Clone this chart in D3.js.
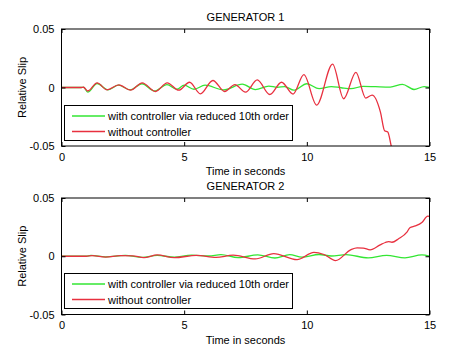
<!DOCTYPE html>
<html>
<head>
<meta charset="utf-8">
<script src="https://cdn.jsdelivr.net/npm/d3@7"></script>
<style>
  html, body { margin: 0; padding: 0; background: #fff; }
  svg { display: block; }
  text { font-family: "Liberation Sans", Arial, sans-serif; fill: #000; }
</style>
</head>
<body>
<svg id="chart" width="474" height="355"></svg>
<script>
// ---------- data ----------
const xTicks = [0, 5, 10, 15];
const yTicks = [0.05, 0, -0.05];
const yTickLabels = ["0.05", "0", "-0.05"];
const titles = ["GENERATOR 1", "GENERATOR 2"];
const seriesNames = ["with controller via reduced 10th order", "without controller"];
const xLabel = "Time in seconds";
const yLabel = "Relative Slip";

// Generator 1 – with controller (t, slip)
const gen1With = [[0,0],[0.8,0],[0.9,0.0002],[1.07,-0.004],[1.45,0.0034],[1.9,-0.002],[2.32,0.002],[2.8,-0.002],[3.28,0.0032],[3.8,-0.003],[4.3,0.0025],[4.7,-0.0015],[5.0,0.002],[5.4,-0.0015],[5.85,0.002],[6.6,-0.002],[7.37,0.0028],[7.9,-0.0018],[8.45,0.0012],[8.8,0.0002],[9.1,0.0008],[9.47,-0.0023],[10.0,0.0032],[10.5,-0.001],[11.0,0.0008],[11.4,-0.0002],[11.8,-0.001],[12.3,0.001],[12.8,0.0007],[13.4,0.0004],[13.9,0.0027],[14.37,-0.0017],[14.78,0.0008],[15,0]];
// Generator 1 – without controller
const gen1Without = [[0,0],[0.8,0],[0.9,0.0002],[1.07,-0.003],[1.45,0.004],[1.86,-0.002],[2.34,0.0023],[2.81,-0.0023],[3.29,0.004],[3.83,-0.0034],[4.31,0.004],[4.78,-0.0023],[5.22,0.0045],[5.66,-0.0054],[6.17,0.006],[6.65,-0.0034],[7.07,0.0025],[7.5,-0.004],[7.98,0.0065],[8.49,-0.006],[8.97,0.0045],[9.44,-0.0056],[9.88,0.011],[10.4,-0.015],[11.05,0.020],[11.5,-0.0096],[12.0,0.013],[12.4,-0.009],[12.66,-0.0065],[13.0,-0.021],[13.17,-0.037],[13.3,-0.038],[13.44,-0.05],[13.6,-0.062]];
// Generator 2 – with controller
const gen2With = [[0,0],[1.0,0],[1.2,0.0008],[1.8,-0.0006],[2.6,0.0008],[3.3,-0.001],[3.9,0.0008],[4.6,-0.0008],[5.3,0.001],[6.0,0.0002],[6.5,0.0014],[7.2,-0.0012],[8.0,0.0012],[8.7,-0.0015],[9.3,0.0014],[9.8,-0.0008],[10.5,0.0015],[11.0,0.0002],[11.6,0.0014],[12.5,-0.0014],[13.25,0.0008],[14.0,-0.0014],[14.69,0.0011],[15,0]];
// Generator 2 – without controller
const gen2Without = [[0,0],[1.0,0],[1.26,0.0006],[1.8,-0.0008],[2.4,0.0006],[2.9,0.0004],[3.36,-0.0012],[3.9,0.0011],[4.6,-0.0012],[5.5,0.0008],[6.3,-0.001],[7.0,0.0009],[7.9,-0.0023],[8.65,0.0023],[9.6,-0.0029],[10.29,0.0034],[10.7,0.0015],[11.17,-0.0037],[11.8,0.0057],[12.05,0.0072],[12.3,0.007],[12.58,0.0055],[12.99,0.0098],[13.2,0.0118],[13.33,0.0126],[13.47,0.012],[13.74,0.015],[14.08,0.0207],[14.2,0.0245],[14.42,0.026],[14.69,0.029],[14.93,0.0344],[15,0.0343]];

const colors = ["#33e633", "#e8303f"];

// ---------- layout ----------
const svg = d3.select("#chart");
const panels = [
  { top: 29, bottom: 146, data: [gen1With, gen1Without], title: titles[0], legendTop: 105 },
  { top: 198, bottom: 314.5, data: [gen2With, gen2Without], title: titles[1], legendTop: 273 }
];
const left = 61.5, right = 429.5;

panels.forEach((p, i) => {
  const g = svg.append("g");
  const x = d3.scaleLinear().domain([0, 15]).range([left, right]);
  const y = d3.scaleLinear().domain([-0.05, 0.05]).range([p.bottom, p.top]);

  const clipId = "clip" + i;
  g.append("clipPath").attr("id", clipId)
    .append("rect").attr("x", left).attr("y", p.top)
    .attr("width", right - left).attr("height", p.bottom - p.top);

  g.append("rect").attr("x", left).attr("y", p.top)
    .attr("width", right - left).attr("height", p.bottom - p.top)
    .attr("fill", "#fff");

  const line = d3.line().x(d => x(d[0])).y(d => y(d[1])).curve(d3.curveMonotoneX);
  p.data.forEach((s, k) => {
    g.append("path").datum(s)
      .attr("clip-path", `url(#${clipId})`)
      .attr("d", line)
      .attr("fill", "none")
      .attr("stroke", colors[k])
      .attr("stroke-width", 1.3);
  });

  const axB = d3.axisBottom(x).tickValues(xTicks).tickSize(-4).tickPadding(7).tickFormat(d3.format("d"));
  const axT = d3.axisTop(x).tickValues(xTicks).tickSize(-4).tickFormat("");
  const axL = d3.axisLeft(y).tickValues(yTicks).tickSize(-4).tickPadding(7).tickFormat((d, j) => yTickLabels[j]);
  const axR = d3.axisRight(y).tickValues(yTicks).tickSize(-4).tickFormat("");

  const styleAxis = sel => {
    sel.select(".domain").attr("stroke", "#000");
    sel.selectAll(".tick line").attr("stroke", "#000");
    sel.selectAll("text").attr("font-size", 11).attr("font-family", "'Liberation Sans', Arial, sans-serif").attr("fill", "#000");
  };
  g.append("g").attr("transform", `translate(0,${p.bottom})`).call(axB).call(styleAxis);
  g.append("g").attr("transform", `translate(0,${p.top})`).call(axT).call(styleAxis);
  g.append("g").attr("transform", `translate(${left},0)`).call(axL).call(styleAxis);
  g.append("g").attr("transform", `translate(${right},0)`).call(axR).call(styleAxis);
  g.selectAll(".domain").attr("d", null);
  g.append("rect").attr("x", left).attr("y", p.top)
    .attr("width", right - left).attr("height", p.bottom - p.top)
    .attr("fill", "none").attr("stroke", "#000").attr("stroke-width", 1);

  g.append("text").attr("x", (left + right) / 2).attr("y", p.top - 8)
    .attr("text-anchor", "middle").attr("font-size", 11).text(p.title);
  g.append("text").attr("x", (left + right) / 2).attr("y", p.bottom + 29)
    .attr("text-anchor", "middle").attr("font-size", 11).text(xLabel);
  g.append("text")
    .attr("transform", `translate(26,${y(0)}) rotate(-90)`)
    .attr("text-anchor", "middle").attr("font-size", 11).text(yLabel);

  const lg = g.append("g");
  lg.append("rect").attr("x", 64.5).attr("y", p.legendTop + 0.5)
    .attr("width", 228).attr("height", 35)
    .attr("fill", "#fff").attr("stroke", "#000").attr("stroke-width", 1);
  seriesNames.forEach((name, k) => {
    const ly = p.legendTop + 11 + k * 15.5;
    lg.append("line").attr("x1", 72).attr("x2", 105).attr("y1", ly).attr("y2", ly)
      .attr("stroke", colors[k]).attr("stroke-width", 1.3);
    lg.append("text").attr("x", 108).attr("y", ly + 4).attr("font-size", 11).text(name);
  });
});
</script>
</body>
</html>
